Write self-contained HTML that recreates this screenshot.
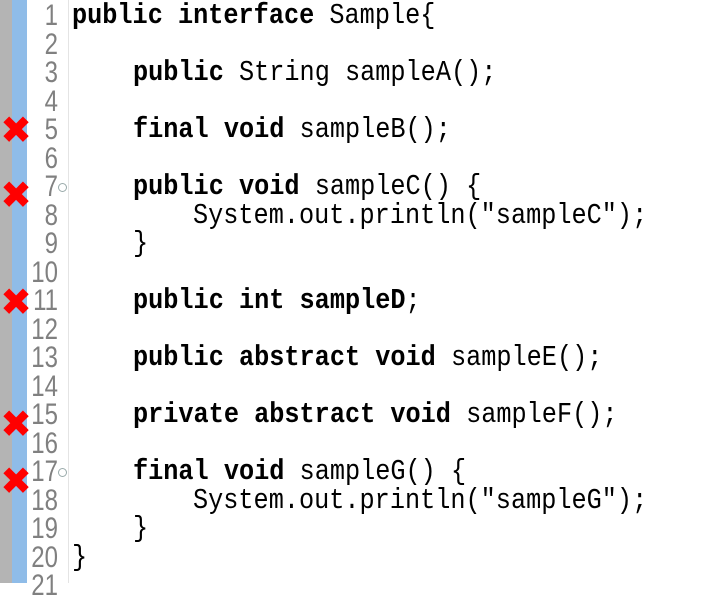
<!DOCTYPE html>
<html><head><style>
body{margin:0;width:716px;height:583px;background:#fff;overflow:hidden;position:relative;font-family:"Liberation Mono",monospace}
.g{position:absolute;left:0;top:0;width:12px;height:583px;background:#b4b4b4}
.b{position:absolute;left:12px;top:0;width:15px;height:583px;background:#8fbce8}
.sep{position:absolute;left:68px;top:0;width:1px;height:583px;background:#e4e4e4}
.n{position:absolute;width:58px;text-align:right;left:0;font-family:"Liberation Sans",sans-serif;font-size:30px;color:#808080;line-height:28.5px;transform:scaleX(0.8);transform-origin:right}
.c{position:absolute;font-size:29px;line-height:28.5px;white-space:pre;transform:scaleX(0.87);transform-origin:left;color:#000}
.c b{font-weight:bold}
.x{position:absolute;left:0px;width:32px;height:32px;color:#f00;font-size:38px;line-height:32px;font-weight:bold;font-family:"DejaVu Sans",sans-serif;text-align:center}
.f{position:absolute;left:58px;width:7px;height:7px;border:1px solid #9aa;border-radius:50%;font-size:0}
</style></head><body>
<div class="g"></div><div class="b"></div><div class="sep"></div>
<div class="n" style="top:2px">1</div>
<div class="n" style="top:30.5px">2</div>
<div class="n" style="top:59px">3</div>
<div class="n" style="top:87.5px">4</div>
<div class="n" style="top:116px">5</div>
<div class="n" style="top:144.5px">6</div>
<div class="n" style="top:173px">7</div>
<div class="n" style="top:201.5px">8</div>
<div class="n" style="top:230px">9</div>
<div class="n" style="top:258.5px">10</div>
<div class="n" style="top:287px">11</div>
<div class="n" style="top:315.5px">12</div>
<div class="n" style="top:344px">13</div>
<div class="n" style="top:372.5px">14</div>
<div class="n" style="top:401px">15</div>
<div class="n" style="top:429.5px">16</div>
<div class="n" style="top:458px">17</div>
<div class="n" style="top:486.5px">18</div>
<div class="n" style="top:515px">19</div>
<div class="n" style="top:543.5px">20</div>
<div class="n" style="top:572px">21</div>
<div class="f" style="top:183px"></div><div class="f" style="top:468px"></div>
<div class="x" style="top:114px">✖</div>
<div class="x" style="top:179px">✖</div>
<div class="x" style="top:286px">✖</div>
<div class="x" style="top:408px">✖</div>
<div class="x" style="top:465px">✖</div>
<div class="c" style="top:2px;left:72px"><b>public interface</b> Sample{</div>
<div class="c" style="top:59px;left:133px"><b>public</b> String sampleA();</div>
<div class="c" style="top:116px;left:133px"><b>final void</b> sampleB();</div>
<div class="c" style="top:173px;left:133px"><b>public void</b> sampleC() {</div>
<div class="c" style="top:201.5px;left:193px">System.out.println("sampleC");</div>
<div class="c" style="top:230px;left:133px">}</div>
<div class="c" style="top:287px;left:133px"><b>public int sampleD</b>;</div>
<div class="c" style="top:344px;left:133px"><b>public abstract void</b> sampleE();</div>
<div class="c" style="top:401px;left:133px"><b>private abstract void</b> sampleF();</div>
<div class="c" style="top:458px;left:133px"><b>final void</b> sampleG() {</div>
<div class="c" style="top:486.5px;left:193px">System.out.println("sampleG");</div>
<div class="c" style="top:515px;left:133px">}</div>
<div class="c" style="top:543.5px;left:72px">}</div>
</body></html>
